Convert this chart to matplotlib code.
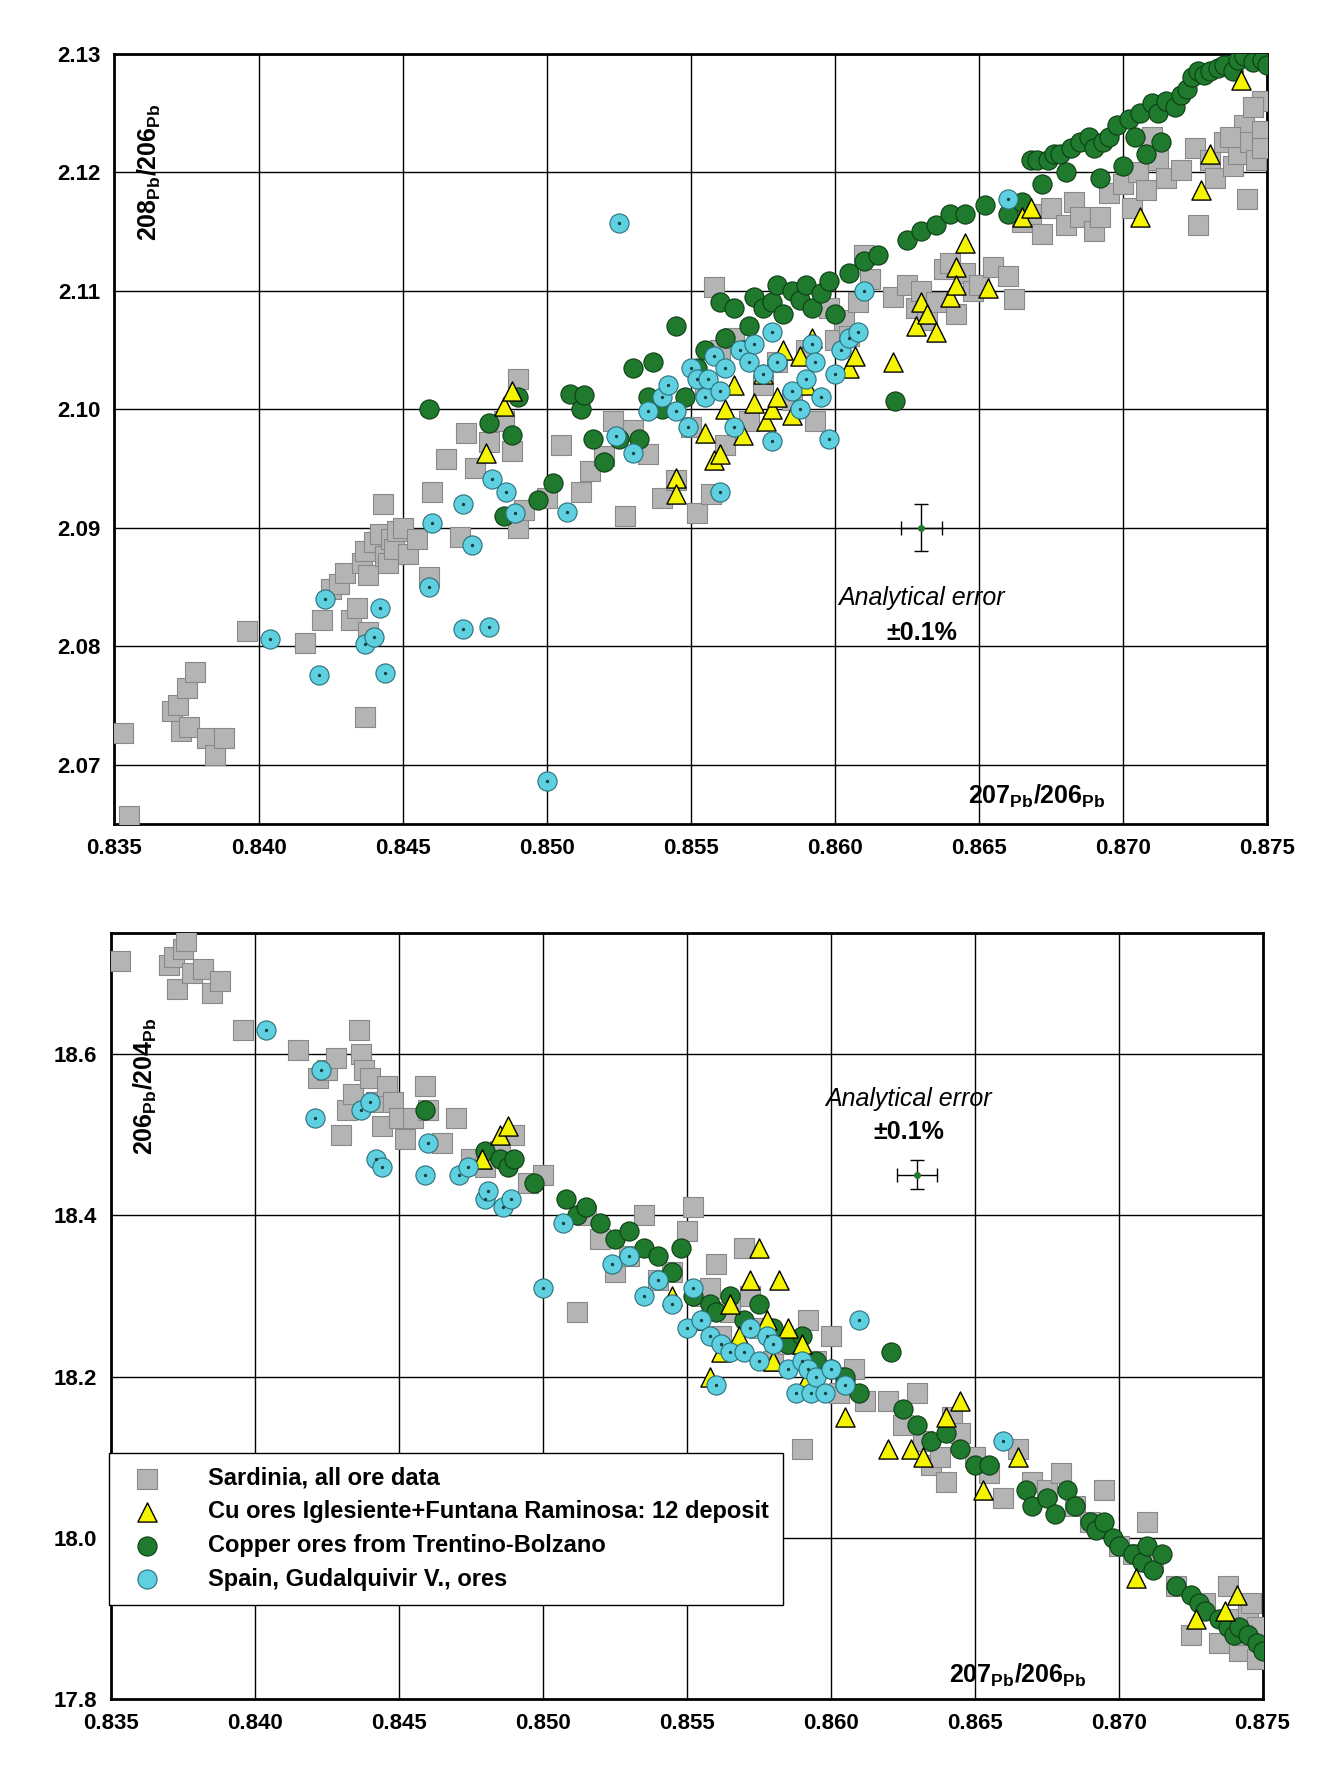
import matplotlib
matplotlib.use("Agg")
import matplotlib.pyplot as plt
import numpy as np

plt.rcParams["font.family"] = ["Liberation Sans", "DejaVu Sans"]
plt.rcParams["mathtext.fontset"] = "custom"
plt.rcParams["mathtext.rm"] = "Liberation Sans"
plt.rcParams["mathtext.bf"] = "Liberation Sans:bold"

# ── Data: top panel (207Pb/206Pb vs 208Pb/206Pb) ─────────────────────────────
sard_top = [(0.8353,2.0727),(0.8355,2.0657),(0.8370,2.0745),(0.8372,2.075),(0.8373,2.0728),(0.8375,2.0765),(0.8376,2.0732),(0.8378,2.0778),(0.8382,2.0722),(0.8385,2.0708),(0.8388,2.0722),(0.8396,2.0813),(0.8416,2.0803),(0.8422,2.0822),(0.8425,2.0848),(0.8428,2.0852),(0.8430,2.0862),(0.8432,2.0822),(0.8434,2.0832),(0.8436,2.0870),(0.8437,2.0880),(0.8438,2.0860),(0.8437,2.0740),(0.8438,2.0812),(0.8440,2.0888),(0.8442,2.0895),(0.8443,2.0920),(0.8444,2.0876),(0.8445,2.0870),(0.8446,2.0890),(0.8447,2.0882),(0.8448,2.0897),(0.8450,2.0900),(0.8452,2.0878),(0.8455,2.0890),(0.8459,2.0858),(0.8460,2.0930),(0.8465,2.0958),(0.8470,2.0892),(0.8472,2.0980),(0.8475,2.0950),(0.8480,2.0972),(0.8485,2.0990),(0.8488,2.0965),(0.8490,2.0900),(0.8490,2.1025),(0.8492,2.0915),(0.8500,2.0925),(0.8505,2.0970),(0.8512,2.0930),(0.8515,2.0948),(0.8520,2.0960),(0.8523,2.0990),(0.8527,2.0910),(0.8530,2.0982),(0.8535,2.0962),(0.8540,2.0925),(0.8545,2.0940),(0.8550,2.0985),(0.8552,2.0912),(0.8555,2.1020),(0.8557,2.0928),(0.8558,2.1103),(0.8560,2.1050),(0.8562,2.0970),(0.8565,2.1060),(0.8570,2.0990),(0.8575,2.1020),(0.8580,2.1040),(0.8585,2.1008),(0.8590,2.1050),(0.8593,2.0990),(0.8598,2.1085),(0.8600,2.1058),(0.8603,2.1075),(0.8605,2.1062),(0.8608,2.1090),(0.8610,2.1130),(0.8612,2.1110),(0.8620,2.1095),(0.8625,2.1105),(0.8628,2.1085),(0.8630,2.1100),(0.8632,2.1075),(0.8635,2.1090),(0.8638,2.1118),(0.8640,2.1123),(0.8642,2.1080),(0.8645,2.1115),(0.8648,2.1100),(0.8650,2.1105),(0.8655,2.1120),(0.8660,2.1112),(0.8662,2.1093),(0.8665,2.1158),(0.8668,2.1165),(0.8672,2.1148),(0.8675,2.1170),(0.8680,2.1155),(0.8683,2.1175),(0.8685,2.1162),(0.8690,2.1150),(0.8692,2.1162),(0.8695,2.1182),(0.8700,2.1190),(0.8703,2.1170),(0.8705,2.1200),(0.8708,2.1185),(0.8710,2.1230),(0.8712,2.1210),(0.8715,2.1195),(0.8720,2.1202),(0.8725,2.1220),(0.8726,2.1155),(0.8730,2.1210),(0.8732,2.1195),(0.8735,2.1225),(0.8738,2.1205),(0.8740,2.1215),(0.8742,2.1240),(0.8744,2.1225),(0.8746,2.1210),(0.8748,2.1235),(0.8748,2.1260),(0.8745,2.1255),(0.8743,2.1177),(0.8748,2.1220),(0.8737,2.1230)]
cu_top = [(0.8479,2.0963),(0.8485,2.1003),(0.8488,2.1015),(0.8545,2.0942),(0.8545,2.0928),(0.8555,2.0980),(0.8558,2.0957),(0.8560,2.0962),(0.8562,2.1000),(0.8565,2.1020),(0.8568,2.0978),(0.8572,2.1005),(0.8575,2.1030),(0.8576,2.0990),(0.8578,2.1000),(0.8580,2.1010),(0.8582,2.1050),(0.8585,2.0995),(0.8588,2.1045),(0.8590,2.1020),(0.8592,2.1060),(0.8605,2.1035),(0.8607,2.1045),(0.8620,2.1040),(0.8628,2.1070),(0.8630,2.1090),(0.8632,2.1080),(0.8635,2.1065),(0.8640,2.1095),(0.8642,2.1120),(0.8642,2.1105),(0.8645,2.1140),(0.8653,2.1102),(0.8665,2.1162),(0.8668,2.1170),(0.8706,2.1162),(0.8727,2.1185),(0.8730,2.1215),(0.8741,2.1278)]
tb_top = [(0.8459,2.1000),(0.8480,2.0988),(0.8485,2.0910),(0.8488,2.0978),(0.8490,2.1010),(0.8497,2.0923),(0.8502,2.0938),(0.8508,2.1013),(0.8512,2.1000),(0.8513,2.1012),(0.8516,2.0975),(0.8520,2.0955),(0.8525,2.0975),(0.8530,2.1035),(0.8532,2.0975),(0.8535,2.1010),(0.8537,2.1040),(0.8540,2.1000),(0.8545,2.1070),(0.8548,2.1010),(0.8552,2.1035),(0.8555,2.1050),(0.8560,2.1090),(0.8562,2.1060),(0.8565,2.1085),(0.8568,2.1050),(0.8570,2.1070),(0.8572,2.1095),(0.8575,2.1085),(0.8578,2.1090),(0.8580,2.1105),(0.8582,2.1080),(0.8585,2.1100),(0.8588,2.1092),(0.8590,2.1105),(0.8592,2.1085),(0.8595,2.1098),(0.8598,2.1108),(0.8600,2.1080),(0.8605,2.1115),(0.8610,2.1125),(0.8615,2.1130),(0.8621,2.1007),(0.8625,2.1143),(0.8630,2.1150),(0.8635,2.1155),(0.8640,2.1165),(0.8645,2.1165),(0.8652,2.1172),(0.8660,2.1165),(0.8665,2.1175),(0.8668,2.1210),(0.8670,2.1210),(0.8672,2.1190),(0.8674,2.1210),(0.8676,2.1215),(0.8678,2.1215),(0.8680,2.1200),(0.8682,2.1220),(0.8685,2.1225),(0.8688,2.1230),(0.8690,2.1220),(0.8692,2.1195),(0.8693,2.1225),(0.8695,2.1230),(0.8698,2.1240),(0.8700,2.1205),(0.8702,2.1245),(0.8704,2.1230),(0.8706,2.1250),(0.8708,2.1215),(0.8710,2.1258),(0.8712,2.1250),(0.8713,2.1225),(0.8715,2.1260),(0.8718,2.1255),(0.8720,2.1265),(0.8722,2.1270),(0.8724,2.1280),(0.8726,2.1285),(0.8728,2.1282),(0.8730,2.1285),(0.8733,2.1288),(0.8735,2.1290),(0.8738,2.1285),(0.8740,2.1295),(0.8742,2.1298),(0.8745,2.1293),(0.8748,2.1295),(0.8750,2.1290)]
sp_top = [(0.8404,2.0806),(0.8421,2.0776),(0.8423,2.0840),(0.8437,2.0802),(0.8440,2.0808),(0.8442,2.0832),(0.8444,2.0777),(0.8459,2.0850),(0.8460,2.0904),(0.8471,2.0920),(0.8471,2.0814),(0.8474,2.0885),(0.8480,2.0816),(0.8481,2.0941),(0.8486,2.0930),(0.8489,2.0912),(0.8507,2.0913),(0.8500,2.0686),(0.8524,2.0977),(0.8525,2.1157),(0.8530,2.0963),(0.8535,2.0998),(0.8540,2.1010),(0.8542,2.1020),(0.8545,2.0998),(0.8549,2.0985),(0.8550,2.1035),(0.8552,2.1025),(0.8555,2.1010),(0.8556,2.1025),(0.8558,2.1045),(0.8560,2.0930),(0.8560,2.1015),(0.8562,2.1035),(0.8565,2.0985),(0.8567,2.1050),(0.8570,2.1040),(0.8572,2.1055),(0.8575,2.1030),(0.8578,2.1065),(0.8578,2.0973),(0.8580,2.1040),(0.8585,2.1015),(0.8588,2.1000),(0.8590,2.1025),(0.8592,2.1055),(0.8593,2.1040),(0.8595,2.1010),(0.8598,2.0975),(0.8600,2.1030),(0.8602,2.1050),(0.8605,2.1060),(0.8608,2.1065),(0.8610,2.1100),(0.8660,2.1177)]

# ── Data: bottom panel (207Pb/206Pb vs 206Pb/204Pb) ──────────────────────────
sard_bot = [(0.8353,18.715),(0.8370,18.71),(0.8372,18.72),(0.8373,18.68),(0.8375,18.73),(0.8376,18.74),(0.8378,18.70),(0.8382,18.705),(0.8385,18.675),(0.8388,18.69),(0.8396,18.63),(0.8415,18.605),(0.8422,18.57),(0.8425,18.58),(0.8428,18.595),(0.8430,18.50),(0.8432,18.53),(0.8434,18.55),(0.8436,18.63),(0.8437,18.60),(0.8438,18.58),(0.8440,18.57),(0.8442,18.54),(0.8444,18.51),(0.8446,18.56),(0.8448,18.54),(0.8450,18.52),(0.8452,18.495),(0.8455,18.52),(0.8459,18.56),(0.8460,18.53),(0.8465,18.49),(0.8470,18.52),(0.8475,18.47),(0.8480,18.46),(0.8485,18.48),(0.8490,18.50),(0.8495,18.44),(0.8500,18.45),(0.8512,18.28),(0.8515,18.40),(0.8520,18.37),(0.8525,18.33),(0.8530,18.35),(0.8535,18.40),(0.8540,18.32),(0.8545,18.33),(0.8550,18.38),(0.8552,18.41),(0.8555,18.30),(0.8558,18.31),(0.8560,18.34),(0.8562,18.25),(0.8565,18.28),(0.8570,18.36),(0.8572,18.30),(0.8575,18.26),(0.8580,18.22),(0.8585,18.24),(0.8590,18.11),(0.8592,18.27),(0.8595,18.22),(0.8600,18.25),(0.8603,18.18),(0.8605,18.20),(0.8608,18.21),(0.8612,18.17),(0.8620,18.17),(0.8625,18.14),(0.8630,18.18),(0.8632,18.12),(0.8635,18.09),(0.8638,18.10),(0.8640,18.07),(0.8642,18.15),(0.8645,18.13),(0.8650,18.10),(0.8655,18.08),(0.8660,18.05),(0.8665,18.11),(0.8670,18.07),(0.8675,18.06),(0.8680,18.08),(0.8685,18.04),(0.8690,18.02),(0.8695,18.06),(0.8700,17.99),(0.8705,17.98),(0.8710,18.02),(0.8712,17.97),(0.8720,17.94),(0.8725,17.88),(0.8730,17.92),(0.8735,17.87),(0.8738,17.94),(0.8740,17.90),(0.8742,17.86),(0.8745,17.91),(0.8748,17.85),(0.8748,17.89),(0.8743,17.88),(0.8746,17.92)]
cu_bot = [(0.8479,18.47),(0.8485,18.50),(0.8488,18.51),(0.8545,18.30),(0.8555,18.27),(0.8558,18.20),(0.8562,18.23),(0.8565,18.29),(0.8568,18.25),(0.8572,18.32),(0.8575,18.36),(0.8578,18.27),(0.8580,18.22),(0.8582,18.32),(0.8585,18.26),(0.8590,18.24),(0.8592,18.20),(0.8605,18.15),(0.8620,18.11),(0.8628,18.11),(0.8632,18.10),(0.8640,18.15),(0.8645,18.17),(0.8653,18.06),(0.8665,18.10),(0.8706,17.95),(0.8727,17.90),(0.8741,17.93),(0.8737,17.91)]
tb_bot = [(0.8459,18.53),(0.8480,18.48),(0.8485,18.47),(0.8488,18.46),(0.8490,18.47),(0.8497,18.44),(0.8508,18.42),(0.8512,18.40),(0.8515,18.41),(0.8520,18.39),(0.8525,18.37),(0.8530,18.38),(0.8535,18.36),(0.8540,18.35),(0.8545,18.33),(0.8548,18.36),(0.8552,18.30),(0.8558,18.29),(0.8560,18.28),(0.8565,18.30),(0.8570,18.27),(0.8575,18.29),(0.8580,18.26),(0.8585,18.24),(0.8590,18.25),(0.8595,18.22),(0.8600,18.21),(0.8605,18.20),(0.8610,18.18),(0.8621,18.23),(0.8625,18.16),(0.8630,18.14),(0.8635,18.12),(0.8640,18.13),(0.8645,18.11),(0.8650,18.09),(0.8655,18.09),(0.8668,18.06),(0.8670,18.04),(0.8675,18.05),(0.8678,18.03),(0.8682,18.06),(0.8685,18.04),(0.8690,18.02),(0.8692,18.01),(0.8695,18.02),(0.8698,18.00),(0.8700,17.99),(0.8705,17.98),(0.8708,17.97),(0.8710,17.99),(0.8712,17.96),(0.8715,17.98),(0.8720,17.94),(0.8725,17.93),(0.8728,17.92),(0.8730,17.91),(0.8735,17.90),(0.8738,17.89),(0.8740,17.88),(0.8742,17.89),(0.8745,17.88),(0.8748,17.87),(0.8750,17.86)]
sp_bot = [(0.8404,18.63),(0.8421,18.52),(0.8423,18.58),(0.8437,18.53),(0.8440,18.54),(0.8442,18.47),(0.8444,18.46),(0.8459,18.45),(0.8460,18.49),(0.8471,18.45),(0.8474,18.46),(0.8480,18.42),(0.8481,18.43),(0.8486,18.41),(0.8489,18.42),(0.8500,18.31),(0.8507,18.39),(0.8524,18.34),(0.8530,18.35),(0.8535,18.30),(0.8540,18.32),(0.8545,18.29),(0.8550,18.26),(0.8552,18.31),(0.8555,18.27),(0.8558,18.25),(0.8560,18.19),(0.8562,18.24),(0.8565,18.23),(0.8570,18.23),(0.8572,18.26),(0.8575,18.22),(0.8578,18.25),(0.8580,18.24),(0.8585,18.21),(0.8588,18.18),(0.8590,18.22),(0.8592,18.21),(0.8593,18.18),(0.8595,18.20),(0.8598,18.18),(0.8600,18.21),(0.8605,18.19),(0.8610,18.27),(0.8660,18.12)]

labels = ["Sardinia, all ore data",
          "Cu ores Iglesiente+Funtana Raminosa: 12 deposit",
          "Copper ores from Trentino-Bolzano",
          "Spain, Gudalquivir V., ores"]
x_ticks = [0.835, 0.840, 0.845, 0.850, 0.855, 0.860, 0.865, 0.870, 0.875]

GRAY, YELLOW, GREEN, CYAN = "#b4b4b4", "#f5f500", "#1f7a2e", "#5fd0e0"

fig = plt.figure(figsize=(13.22, 17.87), dpi=100)
ax1 = fig.add_axes([0.0866, 0.539, 0.872, 0.431])
ax2 = fig.add_axes([0.084, 0.049, 0.871, 0.429])


def draw(ax, sard, cu, tb, sp):
    s = 190
    d = np.array(sard)
    h0 = ax.scatter(d[:, 0], d[:, 1], marker="s", s=s, c=GRAY, edgecolors="#888888", linewidths=0.8, zorder=3)
    d = np.array(tb)
    h2 = ax.scatter(d[:, 0], d[:, 1], marker="o", s=s, c=GREEN, edgecolors="#0d3d14", linewidths=0.8, zorder=4)
    d = np.array(cu)
    h1 = ax.scatter(d[:, 0], d[:, 1], marker="^", s=s, c=YELLOW, edgecolors="black", linewidths=1.0, zorder=5)
    d = np.array(sp)
    h3 = ax.scatter(d[:, 0], d[:, 1], marker="o", s=s, c=CYAN, edgecolors="#2a6f7a", linewidths=0.8, zorder=6)
    ax.scatter(d[:, 0], d[:, 1], marker=".", s=8, c="#1a4040", zorder=7)
    ax.set_xlim(0.835, 0.875)
    ax.set_xticks(x_ticks)
    ax.set_xticklabels([f"{v:.3f}" for v in x_ticks])
    ax.grid(True, color="black", lw=1.0, zorder=0)
    for sp_ in ax.spines.values():
        sp_.set_linewidth(2)
    ax.tick_params(labelsize=16, length=0, pad=10)
    for t in ax.get_xticklabels() + ax.get_yticklabels():
        t.set_fontweight("bold")
    return [h0, h1, h2, h3]


draw(ax1, sard_top, cu_top, tb_top, sp_top)
ax1.set_ylim(2.065, 2.13)
ax1.set_yticks([2.07, 2.08, 2.09, 2.10, 2.11, 2.12, 2.13])
ax1.set_yticklabels(["2.07", "2.08", "2.09", "2.10", "2.11", "2.12", "2.13"], fontweight="bold")
ax1.errorbar([0.863], [2.090], xerr=[0.0007], yerr=[0.002], fmt="o", ms=4,
             color="#1f7a2e", ecolor="black", elinewidth=1, capsize=5, zorder=8)
ax1.text(0.863, 2.0835, "Analytical error", ha="center", fontsize=18, style="italic")
ax1.text(0.863, 2.0805, "±0.1%", ha="center", fontsize=18, fontweight="bold")
ax1.text(0.8362, 2.120, r"$\mathbf{208_{Pb}/206_{Pb}}$", rotation=90, ha="center", va="center", fontsize=18)
ax1.text(0.8670, 2.0673, r"$\mathbf{207_{Pb}/206_{Pb}}$", ha="center", va="center", fontsize=18)

h = draw(ax2, sard_bot, cu_bot, tb_bot, sp_bot)
ax2.set_ylim(17.8, 18.75)
ax2.set_yticks([17.8, 18.0, 18.2, 18.4, 18.6])
ax2.set_yticklabels(["17.8", "18.0", "18.2", "18.4", "18.6"], fontweight="bold")
ax2.errorbar([0.863], [18.45], xerr=[0.0007], yerr=[0.018], fmt="o", ms=4,
             color="#1f7a2e", ecolor="black", elinewidth=1, capsize=5, zorder=8)
ax2.text(0.8627, 18.535, "Analytical error", ha="center", fontsize=18, style="italic")
ax2.text(0.8627, 18.495, "±0.1%", ha="center", fontsize=18, fontweight="bold")
ax2.text(0.8362, 18.56, r"$\mathbf{206_{Pb}/204_{Pb}}$", rotation=90, ha="center", va="center", fontsize=18)
ax2.text(0.8665, 17.83, r"$\mathbf{207_{Pb}/206_{Pb}}$", ha="center", va="center", fontsize=18)

leg = ax2.legend(h, labels, loc="upper left", bbox_to_anchor=(-0.002, 0.322),
                 prop={"size": 17, "weight": "bold"}, fancybox=False, framealpha=1,
                 edgecolor="black", borderpad=0.6, labelspacing=0.45, handletextpad=1.6,
                 borderaxespad=0)
leg.get_frame().set_linewidth(1)
leg.set_zorder(10)

fig.savefig("out.png", dpi=100, facecolor="white")
